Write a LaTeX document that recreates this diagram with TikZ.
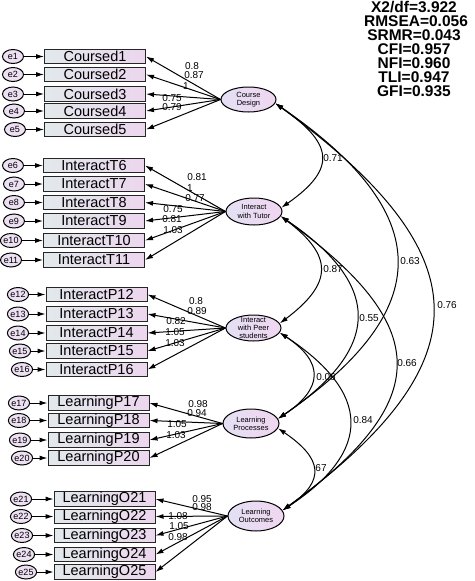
\documentclass[tikz,border=0pt]{standalone}
\usepackage{fontspec}
\setmainfont{Liberation Sans}
\usetikzlibrary{arrows.meta,shapes.geometric}

\definecolor{boxleft}{RGB}{226,233,236}
\definecolor{boxright}{RGB}{236,214,238}
\definecolor{latleft}{RGB}{228,224,244}
\definecolor{latright}{RGB}{240,214,240}
\definecolor{errfill}{RGB}{236,224,242}

\tikzset{
  ind/.style={draw=black!85, line width=1pt, left color=boxleft, right color=boxright,
    minimum width=101pt, minimum height=14.5pt, inner sep=0pt, font=\fontsize{14.5}{15}\selectfont},
  lat/.style={ellipse, draw, line width=1pt, left color=latleft, right color=latright, inner sep=0pt},
  lattxt/.style={align=center, inner sep=0pt, font=\fontsize{7.5}{8.3}\selectfont},
  err/.style={ellipse, draw, line width=1pt, fill=errfill, minimum width=21pt, minimum height=14pt,
    inner sep=0pt, font=\fontsize{9}{10}\selectfont},
  ld/.style={-{Latex[length=8pt,width=5pt]}, line width=1pt},
  cov/.style={{Latex[length=8pt,width=5pt]}-{Latex[length=8pt,width=5pt]}, line width=1pt},
  val/.style={inner sep=0pt, font=\fontsize{10}{11}\selectfont},
  fitline/.style={inner sep=0pt, font=\bfseries\fontsize{15.5}{16}\selectfont},
}

\begin{document}
\begin{tikzpicture}[x=1pt,y=-1pt]
\useasboundingbox (0,0) rectangle (474,581);%
% fit indices
\node[fitline, anchor=base] (f1) at (414,12) {X2/df=3.922};%
\node[fitline, anchor=base] (f2) at (416,26) {RMSEA=0.056};%
\node[fitline, anchor=base] (f3) at (414,40) {SRMR=0.043};%
\node[fitline, anchor=base] (f4) at (414,54.5) {CFI=0.957};%
\node[fitline, anchor=base] (f5) at (414,68.5) {NFI=0.960};%
\node[fitline, anchor=base] (f6) at (414,82.5) {TLI=0.947};%
\node[fitline, anchor=base] (f7) at (414,96.5) {GFI=0.935};%
% latent factors
\node[lat, minimum width=55pt, minimum height=25pt] (cd) at (248.5,99.5) {};%
\node[lattxt] (cdtxt) at (cd) {Course\\Design};%
\node[lat, minimum width=56pt, minimum height=27pt] (it) at (254,211.5) {};%
\node[lattxt] (ittxt) at (it) {Interact\\with Tutor};%
\node[lat, minimum width=55pt, minimum height=26pt] (ip) at (253.5,328) {};%
\node[lattxt] (iptxt) at (ip) {Interact\\with Peer\\students};%
\node[lat, minimum width=56pt, minimum height=29pt] (lp) at (251,423.5) {};%
\node[lattxt] (lptxt) at (lp) {Learning\\Processes};%
\node[lat, minimum width=56pt, minimum height=30pt] (lo) at (256,516) {};%
\node[lattxt] (lotxt) at (lo) {Learning\\Outcomes};%
% Course Design
\node[ind] (c1) at (95,56.5) {Coursed1};%
\node[ind] (c2) at (95,74.5) {Coursed2};%
\node[ind] (c3) at (95,94) {Coursed3};%
\node[ind] (c4) at (95,111) {Coursed4};%
\node[ind] (c5) at (95,129.5) {Coursed5};%
\node[err] (e1) at (13,56.5) {e1};%
\node[err] (e2) at (13,74.5) {e2};%
\node[err] (e3) at (13,94) {e3};%
\node[err] (e4) at (14,111) {e4};%
\node[err] (e5) at (15,129.5) {e5};%
\draw[ld] (e1) -- (c1);%
\draw[ld] (e2) -- (c2);%
\draw[ld] (e3) -- (c3);%
\draw[ld] (e4) -- (c4);%
\draw[ld] (e5) -- (c5);%
\draw[ld] (cd.west) -- (c1.east);%
\draw[ld] (cd.west) -- (c2.east);%
\draw[ld] (cd.west) -- (c3.east);%
\draw[ld] (cd.west) -- (c4.east);%
\draw[ld] (cd.west) -- (c5.east);%
\node[val] (l1) at (192,66) {0.8};%
\node[val] (l2) at (194,75.5) {0.87};%
\node[val] (l3) at (186,86) {1};%
\node[val] (l4) at (172,98) {0.75};%
\node[val] (l5) at (172,107.5) {0.79};%
% Interact with Tutor
\node[ind] (t6) at (94,165.5) {InteractT6};%
\node[ind] (t7) at (94,184) {InteractT7};%
\node[ind] (t8) at (94,202.5) {InteractT8};%
\node[ind] (t9) at (94,221) {InteractT9};%
\node[ind] (t10) at (94,240.5) {InteractT10};%
\node[ind] (t11) at (94,260) {InteractT11};%
\node[err] (e6) at (13,165.5) {e6};%
\node[err] (e7) at (14,184) {e7};%
\node[err] (e8) at (14,202.5) {e8};%
\node[err] (e9) at (14,221) {e9};%
\node[err] (e10) at (11,240.5) {e10};%
\node[err] (e11) at (11,260) {e11};%
\draw[ld] (e6) -- (t6);%
\draw[ld] (e7) -- (t7);%
\draw[ld] (e8) -- (t8);%
\draw[ld] (e9) -- (t9);%
\draw[ld] (e10) -- (t10);%
\draw[ld] (e11) -- (t11);%
\draw[ld] (it.west) -- (t6.east);%
\draw[ld] (it.west) -- (t7.east);%
\draw[ld] (it.west) -- (t8.east);%
\draw[ld] (it.west) -- (t9.east);%
\draw[ld] (it.west) -- (t10.east);%
\draw[ld] (it.west) -- (t11.east);%
\node[val] (l6) at (197,177.5) {0.81};%
\node[val] (l7) at (190,188) {1};%
\node[val] (l8) at (195,198) {0.77};%
\node[val] (l9) at (173,209) {0.75};%
\node[val] (l10) at (172,219.5) {0.81};%
\node[val] (l11) at (173,230) {1.03};%
% Interact with Peer students
\node[ind] (p12) at (96.5,294.5) {InteractP12};%
\node[ind] (p13) at (96.5,314) {InteractP13};%
\node[ind] (p14) at (96.5,333) {InteractP14};%
\node[ind] (p15) at (96.5,351) {InteractP15};%
\node[ind] (p16) at (96.5,369.5) {InteractP16};%
\node[err] (e12) at (18,294.5) {e12};%
\node[err] (e13) at (18,314) {e13};%
\node[err] (e14) at (18,333) {e14};%
\node[err] (e15) at (20,351) {e15};%
\node[err] (e16) at (22,369.5) {e16};%
\draw[ld] (e12) -- (p12);%
\draw[ld] (e13) -- (p13);%
\draw[ld] (e14) -- (p14);%
\draw[ld] (e15) -- (p15);%
\draw[ld] (e16) -- (p16);%
\draw[ld] (ip.west) -- (p12.east);%
\draw[ld] (ip.west) -- (p13.east);%
\draw[ld] (ip.west) -- (p14.east);%
\draw[ld] (ip.west) -- (p15.east);%
\draw[ld] (ip.west) -- (p16.east);%
\node[val] (l12) at (196,301) {0.8};%
\node[val] (l13) at (197,311) {0.89};%
\node[val] (l14) at (176,321) {0.82};%
\node[val] (l15) at (175,332) {1.05};%
\node[val] (l16) at (175,343) {1.03};%
% Learning Processes
\node[ind] (q17) at (98.5,403) {LearningP17};%
\node[ind] (q18) at (98.5,420.5) {LearningP18};%
\node[ind] (q19) at (98.5,440) {LearningP19};%
\node[ind] (q20) at (98.5,458) {LearningP20};%
\node[err] (e17) at (19,403) {e17};%
\node[err] (e18) at (19,420.5) {e18};%
\node[err] (e19) at (20,440) {e19};%
\node[err] (e20) at (22,458) {e20};%
\draw[ld] (e17) -- (q17);%
\draw[ld] (e18) -- (q18);%
\draw[ld] (e19) -- (q19);%
\draw[ld] (e20) -- (q20);%
\draw[ld] (lp.west) -- (q17.east);%
\draw[ld] (lp.west) -- (q18.east);%
\draw[ld] (lp.west) -- (q19.east);%
\draw[ld] (lp.west) -- (q20.east);%
\node[val] (l17) at (198,404) {0.98};%
\node[val] (l18) at (197,413) {0.94};%
\node[val] (l19) at (177,424) {1.05};%
\node[val] (l20) at (176,435) {1.03};%
% Learning Outcomes
\node[ind] (o21) at (104.5,499) {LearningO21};%
\node[ind] (o22) at (104.5,516.5) {LearningO22};%
\node[ind] (o23) at (104.5,535.5) {LearningO23};%
\node[ind] (o24) at (104.5,554.5) {LearningO24};%
\node[ind] (o25) at (104.5,572) {LearningO25};%
\node[err] (e21) at (21,499) {e21};%
\node[err] (e22) at (21,516.5) {e22};%
\node[err] (e23) at (22,535.5) {e23};%
\node[err] (e24) at (24,554.5) {e24};%
\node[err] (e25) at (26,572) {e25};%
\draw[ld] (e21) -- (o21);%
\draw[ld] (e22) -- (o22);%
\draw[ld] (e23) -- (o23);%
\draw[ld] (e24) -- (o24);%
\draw[ld] (e25) -- (o25);%
\draw[ld] (lo.west) -- (o21.east);%
\draw[ld] (lo.west) -- (o22.east);%
\draw[ld] (lo.west) -- (o23.east);%
\draw[ld] (lo.west) -- (o24.east);%
\draw[ld] (lo.west) -- (o25.east);%
\node[val] (l21) at (202,499) {0.95};%
\node[val] (l22) at (202,507.5) {0.98};%
\node[val] (l23) at (178,516) {1.08};%
\node[val] (l24) at (179,526) {1.05};%
\node[val] (l25) at (178,537) {0.98};%
% covariances
\draw[cov] (cd.-8) .. controls +(57,40) and +(57,-40) .. (it.8);%
\draw[cov] (it.-10) .. controls +(53,40) and +(53,-40) .. (ip.10);%
\draw[cov] (ip.-10) .. controls +(45,30) and +(45,-30) .. (lp.10);%
\draw[cov] (lp.-10) .. controls +(44,30) and +(44,-30) .. (lo.12);%
\draw[cov] (ip.-10) .. controls +(91,60) and +(91,-60) .. (lo.12);%
\draw[cov] (it.-10) .. controls +(103,70) and +(103,-70) .. (lp.10);%
\draw[cov] (cd.-8) .. controls +(160,110) and +(160,-110) .. (lp.10);%
\draw[cov] (it.-10) .. controls +(152,110) and +(152,-110) .. (lo.12);%
\draw[cov] (cd.-8) .. controls +(205,150) and +(205,-150) .. (lo.12);%
\node[val] (v-cd-it) at (333,158) {0.71};%
\node[val] (v-it-ip) at (333,269) {0.87};%
\node[val] (v-ip-lp) at (326,377) {0.06};%
\node[val] (v-lp-lo) at (321,468) {67};%
\node[val] (v-ip-lo) at (363,420) {0.84};%
\node[val] (v-it-lp) at (369,318) {0.55};%
\node[val] (v-cd-lp) at (410,261) {0.63};%
\node[val] (v-it-lo) at (407,363) {0.66};%
\node[val] (v-cd-lo) at (447,305) {0.76};%
\end{tikzpicture}
\end{document}
